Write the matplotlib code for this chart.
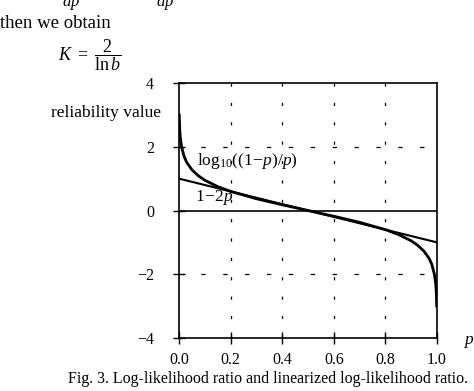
import matplotlib
matplotlib.use('Agg')
import matplotlib.pyplot as plt

plt.rcParams['font.family'] = ['Liberation Serif', 'DejaVu Serif']
plt.rcParams['mathtext.fontset'] = 'custom'
plt.rcParams['mathtext.rm'] = 'Liberation Serif'
plt.rcParams['mathtext.it'] = 'Liberation Serif:italic'

# values
p_llr = [0.001, 0.003, 0.005, 0.01, 0.02, 0.03, 0.05, 0.075, 0.1, 0.15, 0.2,
         0.3, 0.4, 0.5, 0.6, 0.7, 0.8, 0.85, 0.9, 0.925, 0.95, 0.97, 0.98,
         0.99, 0.995, 0.997, 0.999]
llr = [3.0, 2.52, 2.3, 2.0, 1.69, 1.51, 1.28, 1.09, 0.95, 0.75, 0.60,
       0.37, 0.18, 0.0, -0.18, -0.37, -0.60, -0.75, -0.95, -1.09, -1.28,
       -1.51, -1.69, -2.0, -2.3, -2.52, -3.0]
p_lin = [0.0, 1.0]
lin = [1.0, -1.0]

x_ticks = [0.0, 0.2, 0.4, 0.6, 0.8, 1.0]
x_ticklabels = ['0.0', '0.2', '0.4', '0.6', '0.8', '1.0']
y_ticks = [-4, -2, 0, 2, 4]
y_ticklabels = ['\u22124', '\u22122', '0', '2', '4']

fig = plt.figure(figsize=(4.74, 3.91), dpi=100)
ax = fig.add_axes([0.3776, 0.1355, 0.5443, 0.6522])

# sparse dashed grid
for xv in [0.2, 0.4, 0.6, 0.8]:
    ax.plot([xv, xv], [-4, 4], color='black', lw=0.9, dashes=(2.5, 13))
for yv in [-2, 2]:
    ax.plot([0, 1], [yv, yv], color='black', lw=0.9, dashes=(3.5, 14))
ax.axhline(0, color='black', lw=1.2)

ax.plot(p_llr, llr, color='black', lw=2.0)
ax.plot(p_lin, lin, color='black', lw=1.5)

ax.set_xlim(0, 1)
ax.set_ylim(-4, 4)
ax.set_xticks(x_ticks)
ax.set_xticklabels(x_ticklabels)
ax.set_yticks(y_ticks)
ax.set_yticklabels(y_ticklabels)
ax.tick_params(direction='inout', length=8, width=1.0, labelsize=11.5)
ax.tick_params(axis='x', pad=6)
ax.tick_params(axis='y', pad=14)
for s in ax.spines.values():
    s.set_linewidth(1.2)

ax.text(-0.07, 3.07, 'reliability value', fontsize=12.5, ha='right', va='center')
ax.text(0.07, 1.55, r'$\mathrm{log}_{10}((1\!-\!p)/p)$', fontsize=12.5, ha='left', va='center')
ax.text(0.062, 0.42, r'$\mathrm{1\!-\!2}p$', fontsize=12.5, ha='left', va='center')
ax.text(1.1, -4.12, r'$p$', fontsize=12.5, ha='left', va='center', clip_on=False)

# surrounding page text
fig.text(0.13, 0.995, r'$dp$', fontsize=12, ha='left', va='center')
fig.text(0.33, 0.995, r'$dp$', fontsize=12, ha='left', va='center')
fig.text(0.0, 0.94, 'then we obtain', fontsize=13.5, ha='left', va='center')
fig.text(0.122, 0.86, r'$K\ =\ \dfrac{2}{\mathrm{ln}\,b}$', fontsize=13, ha='left', va='center')
fig.text(0.565, 0.031, 'Fig. 3. Log-likelihood ratio and linearized log-likelihood ratio.',
         fontsize=11.5, ha='center', va='center')

fig.savefig('out.png', dpi=100)
